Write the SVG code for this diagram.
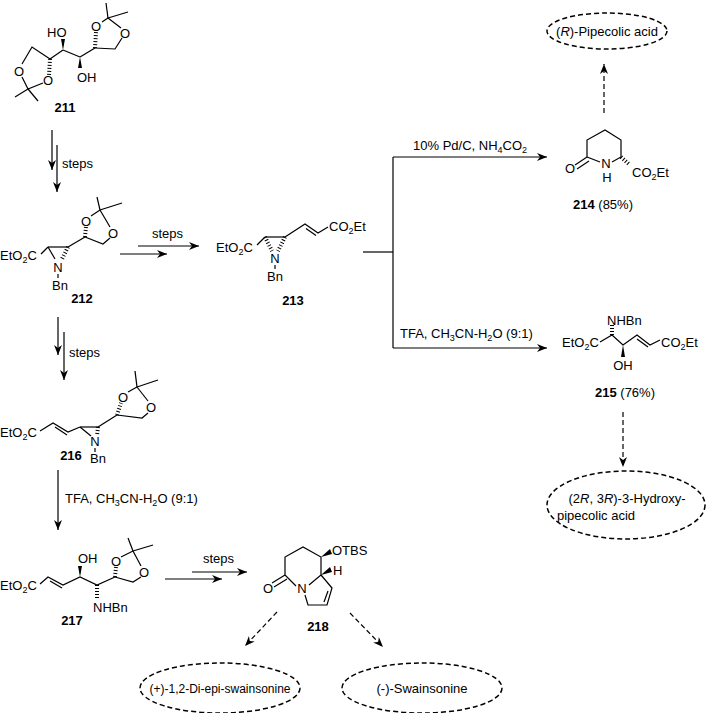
<svg xmlns="http://www.w3.org/2000/svg" width="710" height="713" viewBox="0 0 710 713">
<defs>
<marker id="ah" viewBox="0 0 10 8" refX="10" refY="4" markerWidth="10" markerHeight="8" markerUnits="userSpaceOnUse" orient="auto"><path d="M0,0 L10,4 L0,8 L3,4 Z" fill="#000"/></marker>
</defs>
<style>
text{font-family:"Liberation Sans",Arial,sans-serif;font-size:13px;fill:#000}
.b{font-weight:bold}
.m{text-anchor:middle}
.s{font-size:9px}
line,polyline,path.l{stroke:#000;stroke-width:1.2;fill:none}
.h{stroke-width:4;stroke-dasharray:1 2}
.w{fill:#000;stroke:none}
.a{marker-end:url(#ah)}
.d{stroke-dasharray:5 3}
ellipse{fill:none;stroke:#000;stroke-width:1.5;stroke-dasharray:5 3}
</style>
<rect width="710" height="713" fill="#fff"/>

<g id="n211">
<polyline points="50,59 32,47 22,64"/>
<polyline points="22,77 28,89 43,83"/>
<line class="h" x1="50" y1="59" x2="49" y2="75"/>
<line x1="28" y1="89" x2="15" y2="97"/><line x1="28" y1="89" x2="38" y2="101"/>
<line x1="50" y1="59" x2="63" y2="50"/>
<polygon class="w" points="63,50 61,39 65,39"/>
<line x1="63" y1="50" x2="80" y2="57"/>
<polygon class="w" points="80,57 78,68 82,68"/>
<line x1="80" y1="57" x2="95" y2="48"/>
<line class="h" x1="95" y1="48" x2="96" y2="32"/>
<polyline points="102,22 108,18 121,28"/>
<polyline points="122,38 115,49 95,48"/>
<line x1="108" y1="18" x2="106" y2="3"/><line x1="108" y1="18" x2="128" y2="12"/>
<text x="19" y="76" class="m">O</text><text x="48" y="85" class="m">O</text>
<text x="96" y="31" class="m">O</text><text x="125" y="38" class="m">O</text>
<text x="47" y="37">HO</text><text x="77" y="82">OH</text>
<text x="65" y="112" class="m b">211</text>
</g>

<g id="n212">
<text x="0" y="260">EtO<tspan class="s" dy="3">2</tspan><tspan dy="-3">C</tspan></text>
<line x1="41" y1="254" x2="48" y2="247"/>
<line x1="48" y1="247" x2="68" y2="247"/>
<line x1="48" y1="247" x2="55" y2="259"/>
<line class="h" x1="68" y1="247" x2="62" y2="259"/>
<text x="58" y="272" class="m">N</text>
<line x1="58" y1="274" x2="58" y2="278"/>
<text x="60" y="290" class="m">Bn</text>
<line x1="68" y1="247" x2="85" y2="237"/>
<line class="h" x1="85" y1="237" x2="86" y2="227"/>
<text x="86" y="226" class="m">O</text>
<line x1="91" y1="216" x2="100" y2="210"/>
<line x1="100" y1="210" x2="97" y2="197"/><line x1="100" y1="210" x2="122" y2="203"/>
<line x1="100" y1="210" x2="110" y2="227"/>
<text x="113" y="238" class="m">O</text>
<polyline points="110,238 103,244 85,237"/>
<text x="82" y="303" class="m b">212</text>
</g>

<g id="n213">
<text x="216" y="252">EtO<tspan class="s" dy="3">2</tspan><tspan dy="-3">C</tspan></text>
<line x1="257" y1="245" x2="265" y2="237"/>
<line x1="265" y1="237" x2="285" y2="237"/>
<line class="h" x1="265" y1="237" x2="272" y2="251"/>
<line class="h" x1="285" y1="237" x2="278" y2="251"/>
<text x="275" y="263" class="m">N</text>
<line x1="275" y1="265" x2="275" y2="269"/>
<text x="275" y="281" class="m">Bn</text>
<polyline points="285,237 305,224 318,233 328,227"/>
<line x1="306" y1="228.5" x2="316" y2="235.5"/>
<text x="329" y="231">CO<tspan class="s" dy="3">2</tspan><tspan dy="-3">Et</tspan></text>
<text x="293" y="305" class="m b">213</text>
</g>

<g id="n214">
<polyline points="587,157 587,140 605,130 621,140 621,157 612,162"/>
<line x1="587" y1="157" x2="600" y2="162"/>
<line x1="587" y1="157" x2="575" y2="165"/>
<line x1="589" y1="161" x2="577" y2="169"/>
<text x="570" y="173" class="m">O</text>
<text x="606" y="168" class="m">N</text>
<text x="607" y="182" class="m">H</text>
<line class="h" x1="621" y1="157" x2="630" y2="165"/>
<text x="632" y="177">CO<tspan class="s" dy="3">2</tspan><tspan dy="-3">Et</tspan></text>
<text x="603" y="209" class="m"><tspan class="b">214</tspan> (85%)</text>
</g>

<g id="n215">
<text x="562" y="347">EtO<tspan class="s" dy="3">2</tspan><tspan dy="-3">C</tspan></text>
<polyline points="600,342 612,335 623,345 637,335 650,345 660,340"/>
<line x1="637" y1="339" x2="648" y2="347"/>
<line class="h" x1="612" y1="335" x2="612" y2="323"/>
<text x="607" y="325">NHBn</text>
<polygon class="w" points="623,345 621,357 625,357"/>
<text x="623" y="370" class="m">OH</text>
<text x="661" y="347">CO<tspan class="s" dy="3">2</tspan><tspan dy="-3">Et</tspan></text>
<text x="625" y="397" class="m"><tspan class="b">215</tspan> (76%)</text>
</g>

<g id="n216">
<text x="0" y="437">EtO<tspan class="s" dy="3">2</tspan><tspan dy="-3">C</tspan></text>
<polyline points="40,431 53,423 68,432 80,427"/>
<line x1="55" y1="427" x2="67" y2="435"/>
<line x1="80" y1="427" x2="98" y2="427"/>
<line x1="80" y1="427" x2="91" y2="436"/>
<line class="h" x1="98" y1="427" x2="97" y2="436"/>
<text x="95" y="446" class="m">N</text>
<line x1="95" y1="448" x2="95" y2="452"/>
<text x="98" y="463" class="m">Bn</text>
<line x1="98" y1="427" x2="117" y2="415"/>
<line class="h" x1="117" y1="415" x2="121" y2="403"/>
<text x="123" y="402" class="m">O</text>
<line x1="128" y1="392" x2="137" y2="387"/>
<line x1="137" y1="387" x2="135" y2="371"/><line x1="137" y1="387" x2="158" y2="380"/>
<line x1="137" y1="387" x2="148" y2="401"/>
<text x="151" y="412" class="m">O</text>
<polyline points="148,413 142,418 117,415"/>
<text x="71" y="460" class="m b">216</text>
</g>

<g id="n217">
<text x="0" y="590">EtO<tspan class="s" dy="3">2</tspan><tspan dy="-3">C</tspan></text>
<polyline points="40,584 48,577 63,585 80,577 97,585 115,577"/>
<line x1="50" y1="581" x2="62" y2="588"/>
<polygon class="w" points="80,577 78,566 82,566"/>
<text x="78" y="563">OH</text>
<line class="h" x1="97" y1="585" x2="97" y2="600"/>
<text x="93" y="612">NHBn</text>
<line class="h" x1="115" y1="577" x2="116" y2="567"/>
<text x="116" y="566" class="m">O</text>
<line x1="121" y1="557" x2="133" y2="551"/>
<line x1="133" y1="551" x2="128" y2="538"/><line x1="133" y1="551" x2="153" y2="545"/>
<line x1="133" y1="551" x2="141" y2="566"/>
<text x="144" y="577" class="m">O</text>
<polyline points="141,577 133,582 115,577"/>
<text x="72" y="625" class="m b">217</text>
</g>

<g id="n218">
<polyline points="296,586 285,575 285,557 303,547 321,557 321,575 309,585"/>
<line x1="285" y1="575" x2="272" y2="583"/>
<line x1="287" y1="579" x2="274" y2="587"/>
<text x="268" y="593" class="m">O</text>
<text x="302" y="593" class="m">N</text>
<polygon class="w" points="321,557 330,549 332,554"/>
<text x="332" y="555">OTBS</text>
<polygon class="w" points="321,575 330,567 332,572"/>
<text x="333" y="575">H</text>
<polyline points="321,575 332,588 327,605 308,605 305,595"/>
<line x1="328" y1="591" x2="324" y2="602"/>
<text x="318" y="631" class="m b">218</text>
</g>

<g id="ellipses">
<g id="e1"><ellipse cx="607" cy="31" rx="60" ry="18"/><text x="607" y="36" class="m">(<tspan font-style="italic">R</tspan>)-Pipecolic acid</text></g>
<g id="e2"><ellipse cx="626" cy="505" rx="79" ry="34"/><text x="627" y="503" class="m">(2<tspan font-style="italic">R</tspan>, 3<tspan font-style="italic">R</tspan>)-3-Hydroxy-</text><text x="557" y="520">pipecolic acid</text></g>
<g id="e3"><ellipse cx="220" cy="688" rx="80" ry="25"/><text x="220" y="693" class="m" style="font-size:12px">(+)-1,2-Di-epi-swainsonine</text></g>
<g id="e4"><ellipse cx="422" cy="688" rx="80" ry="25"/><text x="422" y="693" class="m">(-)-Swainsonine</text></g>
</g>

<g id="connectors">
<line class="a" x1="52" y1="130" x2="52" y2="170"/>
<line class="a" x1="57" y1="145" x2="57" y2="192"/>
<text x="62" y="168">steps</text>
<line class="a" x1="120" y1="254" x2="167" y2="254"/>
<line class="a" x1="138" y1="246" x2="199" y2="246"/>
<text x="152" y="238">steps</text>
<line x1="363" y1="252" x2="393" y2="252"/>
<line x1="393" y1="157" x2="393" y2="348"/>
<line class="a" x1="393" y1="157" x2="547" y2="157"/>
<line class="a" x1="393" y1="348" x2="547" y2="348"/>
<text x="413" y="150">10% Pd/C, NH<tspan class="s" dy="3">4</tspan><tspan dy="-3">CO</tspan><tspan class="s" dy="3">2</tspan></text>
<text x="400" y="338">TFA, CH<tspan class="s" dy="3">3</tspan><tspan dy="-3">CN-H</tspan><tspan class="s" dy="3">2</tspan><tspan dy="-3">O (9:1)</tspan></text>
<line class="a d" x1="604" y1="113" x2="604" y2="64"/>
<line class="a d" x1="623" y1="412" x2="623" y2="467"/>
<line class="a" x1="58" y1="317" x2="58" y2="355"/>
<line class="a" x1="64" y1="332" x2="64" y2="380"/>
<text x="69" y="357">steps</text>
<line class="a" x1="58" y1="470" x2="58" y2="530"/>
<text x="65" y="503">TFA, CH<tspan class="s" dy="3">3</tspan><tspan dy="-3">CN-H</tspan><tspan class="s" dy="3">2</tspan><tspan dy="-3">O (9:1)</tspan></text>
<line class="a" x1="165" y1="579" x2="222" y2="579"/>
<line class="a" x1="192" y1="572" x2="247" y2="572"/>
<text x="203" y="563">steps</text>
<line class="a d" x1="277" y1="612" x2="245" y2="646"/>
<line class="a d" x1="350" y1="613" x2="383" y2="647"/>
</g>
</svg>
